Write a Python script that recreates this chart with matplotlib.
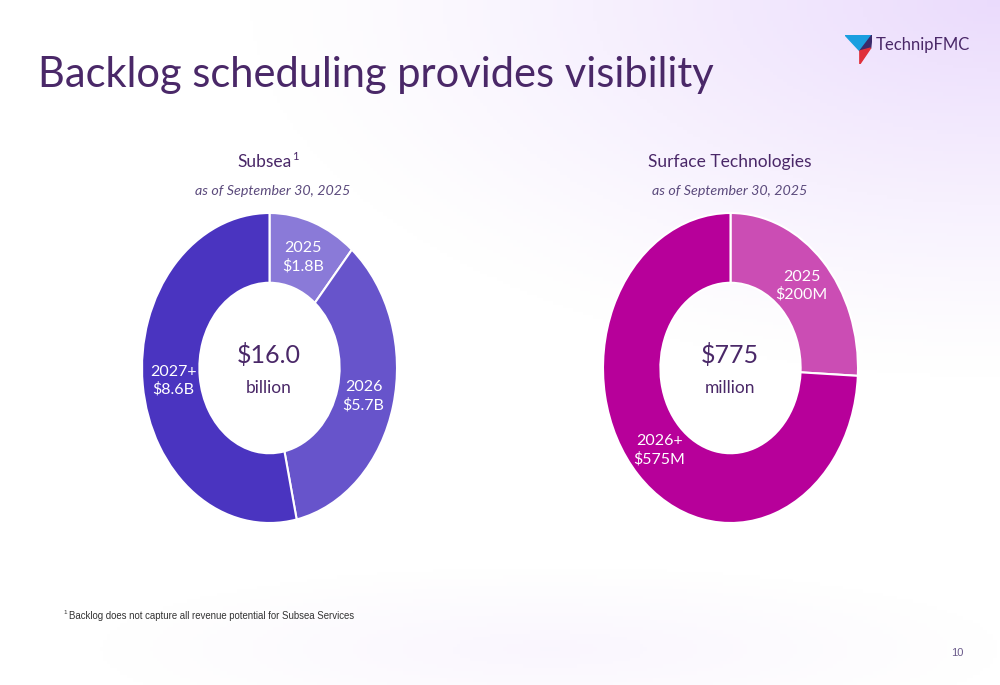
import matplotlib.pyplot as plt
import numpy as np
from matplotlib.patches import Polygon

# backlog data
subsea_labels = ["2025", "2026", "2027+"]
subsea_values = [1.8, 5.7, 8.6]
subsea_text = ["$1.8B", "$5.7B", "$8.6B"]
subsea_colors = ["#8A7AD8", "#6754CB", "#4A34C0"]

surface_labels = ["2025", "2026+"]
surface_values = [200, 575]
surface_text = ["$200M", "$575M"]
surface_colors = ["#CB4DB4", "#B7009A"]

plt.rcParams['font.family'] = ['Lato', 'DejaVu Sans']
TITLE_COL = "#4A2868"

fig = plt.figure(figsize=(10, 6.85), dpi=100)

# soft lavender background wash
bg = fig.add_axes([0, 0, 1, 1], zorder=-10)
yy, xx = np.mgrid[0:1:200j, 0:1:300j]
d = np.sqrt(((xx - 1.0) / 0.75) ** 2 + ((yy - 0.0) / 0.55) ** 2)
w = np.clip(1 - d, 0, 1) ** 1.2
d2 = np.sqrt(((xx - 0.55) / 0.45) ** 2 + ((yy - 0.95) / 0.12) ** 2)
w = np.maximum(w, 0.25 * np.clip(1 - d2, 0, 1))
lav = np.array([0.92, 0.86, 0.99])
img = 1 - w[..., None] * (1 - lav)
bg.imshow(img, extent=[0, 1, 1, 0], aspect='auto')
bg.set_xlim(0, 1)
bg.set_ylim(1, 0)
bg.axis('off')


def donut(rect, values, labels, texts, colors, pctd):
    ax = fig.add_axes(rect)
    it = iter(range(len(values)))

    def fmt(p):
        i = next(it)
        return labels[i] + "\n" + texts[i]

    wedges, _, autotexts = ax.pie(values, colors=colors, startangle=90, counterclock=False,
                                  radius=1, autopct=fmt, pctdistance=pctd,
                                  wedgeprops=dict(width=0.45, edgecolor='white', linewidth=1.5))
    for t in autotexts:
        t.set_color('white')
        t.set_fontsize(11.5)
        t.set_linespacing(1.3)
    ax.set_aspect('auto')
    ax.set_xlim(-1, 1)
    ax.set_ylim(-1, 1)
    return ax


px = lambda x0, y0, x1, y1: [x0 / 1000, 1 - y1 / 685, (x1 - x0) / 1000, (y1 - y0) / 685]

donut(px(142, 213, 397, 523), subsea_values, subsea_labels, subsea_text, subsea_colors, 0.76)
donut(px(603, 213, 858, 523), surface_values, surface_labels, surface_text, surface_colors, 0.77)

# center totals
for cx, big, small in [(269, "$16.0", "billion"), (730, "$775", "million")]:
    fig.text(cx / 1000, 1 - 355 / 685, big, ha='center', va='center', fontsize=18, color=TITLE_COL)
    fig.text(cx / 1000, 1 - 388 / 685, small, ha='center', va='center', fontsize=12.5, color=TITLE_COL)

# panel headers
fig.text(265 / 1000, 1 - 162 / 685, "Subsea", ha='center', va='center', fontsize=12.5, color=TITLE_COL)
fig.text(292 / 1000, 1 - 157 / 685, "1", ha='left', va='center', fontsize=8, color=TITLE_COL)
fig.text(730 / 1000, 1 - 162 / 685, "Surface Technologies", ha='center', va='center', fontsize=12.5, color=TITLE_COL)
for cx in [273, 730]:
    fig.text(cx / 1000, 1 - 191 / 685, "as of September 30, 2025", ha='center', va='center',
             fontsize=10.3, style='italic', color="#5B4A7C")

# title
fig.text(38 / 1000, 1 - 75 / 685, "Backlog scheduling provides visibility", ha='left', va='center',
         fontsize=30, fontweight='normal', color=TITLE_COL)

# footnote + page number
fig.text(63 / 1000, 1 - 613 / 685, "1", ha='left', va='center', fontsize=4.5,
         family='Liberation Sans', color="#333333")
fig.text(69 / 1000, 1 - 616 / 685, "Backlog does not capture all revenue potential for Subsea Services",
         ha='left', va='center', fontsize=6.9, family='Liberation Sans', color="#333333")
fig.text(957 / 1000, 1 - 653 / 685, "10", ha='center', va='center', fontsize=8,
         family='Liberation Sans', color="#6A5A8A")

# logo
lg = fig.add_axes(px(845, 35, 872, 64))
lg.add_patch(Polygon([[0, 1], [1, 1], [0.55, 0.45]], closed=True, color="#1A9FE0"))
lg.add_patch(Polygon([[0.55, 0.45], [1, 1], [0.95, 0.55]], closed=True, color="#3B2A6B"))
lg.add_patch(Polygon([[0.55, 0.45], [0.95, 0.55], [0.55, 0.0]], closed=True, color="#E0303A"))
lg.set_xlim(0, 1)
lg.set_ylim(0, 1)
lg.axis('off')
fig.text(876 / 1000, 1 - 45 / 685, "TechnipFMC", ha='left', va='center', fontsize=12, color="#4A2868")

fig.savefig("out.png", dpi=100)
